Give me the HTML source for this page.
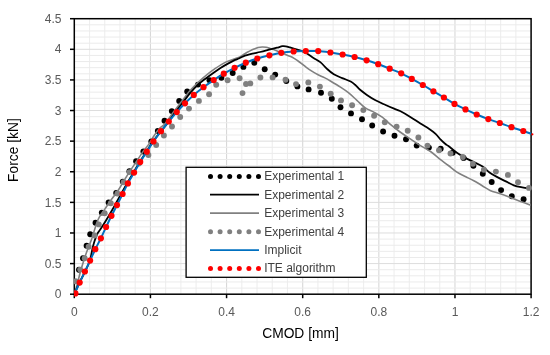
<!DOCTYPE html>
<html><head><meta charset="utf-8"><style>
html,body{margin:0;padding:0;background:#fff;width:550px;height:355px;overflow:hidden}
svg{display:block;will-change:transform}
text{font-family:"Liberation Sans",sans-serif}
.ax text{font-size:12px;fill:#595959}
.lg{font-size:12px;fill:#404040}
.tt{font-size:13.8px;fill:#000}
</style></head><body>
<svg width="550" height="355" viewBox="0 0 550 355">
<rect width="550" height="355" fill="#fff"/>
<g><line x1="89.53" y1="18.7" x2="89.53" y2="294.2" stroke="#eeeeee" stroke-width="1.1"/><line x1="104.75" y1="18.7" x2="104.75" y2="294.2" stroke="#eeeeee" stroke-width="1.1"/><line x1="119.98" y1="18.7" x2="119.98" y2="294.2" stroke="#eeeeee" stroke-width="1.1"/><line x1="135.21" y1="18.7" x2="135.21" y2="294.2" stroke="#eeeeee" stroke-width="1.1"/><line x1="150.43" y1="18.7" x2="150.43" y2="294.2" stroke="#d8d8d8" stroke-width="1.1"/><line x1="165.66" y1="18.7" x2="165.66" y2="294.2" stroke="#eeeeee" stroke-width="1.1"/><line x1="180.89" y1="18.7" x2="180.89" y2="294.2" stroke="#eeeeee" stroke-width="1.1"/><line x1="196.11" y1="18.7" x2="196.11" y2="294.2" stroke="#eeeeee" stroke-width="1.1"/><line x1="211.34" y1="18.7" x2="211.34" y2="294.2" stroke="#eeeeee" stroke-width="1.1"/><line x1="226.57" y1="18.7" x2="226.57" y2="294.2" stroke="#d8d8d8" stroke-width="1.1"/><line x1="241.79" y1="18.7" x2="241.79" y2="294.2" stroke="#eeeeee" stroke-width="1.1"/><line x1="257.02" y1="18.7" x2="257.02" y2="294.2" stroke="#eeeeee" stroke-width="1.1"/><line x1="272.25" y1="18.7" x2="272.25" y2="294.2" stroke="#eeeeee" stroke-width="1.1"/><line x1="287.47" y1="18.7" x2="287.47" y2="294.2" stroke="#eeeeee" stroke-width="1.1"/><line x1="302.70" y1="18.7" x2="302.70" y2="294.2" stroke="#d8d8d8" stroke-width="1.1"/><line x1="317.93" y1="18.7" x2="317.93" y2="294.2" stroke="#eeeeee" stroke-width="1.1"/><line x1="333.15" y1="18.7" x2="333.15" y2="294.2" stroke="#eeeeee" stroke-width="1.1"/><line x1="348.38" y1="18.7" x2="348.38" y2="294.2" stroke="#eeeeee" stroke-width="1.1"/><line x1="363.61" y1="18.7" x2="363.61" y2="294.2" stroke="#eeeeee" stroke-width="1.1"/><line x1="378.83" y1="18.7" x2="378.83" y2="294.2" stroke="#d8d8d8" stroke-width="1.1"/><line x1="394.06" y1="18.7" x2="394.06" y2="294.2" stroke="#eeeeee" stroke-width="1.1"/><line x1="409.29" y1="18.7" x2="409.29" y2="294.2" stroke="#eeeeee" stroke-width="1.1"/><line x1="424.51" y1="18.7" x2="424.51" y2="294.2" stroke="#eeeeee" stroke-width="1.1"/><line x1="439.74" y1="18.7" x2="439.74" y2="294.2" stroke="#eeeeee" stroke-width="1.1"/><line x1="454.97" y1="18.7" x2="454.97" y2="294.2" stroke="#d8d8d8" stroke-width="1.1"/><line x1="470.19" y1="18.7" x2="470.19" y2="294.2" stroke="#eeeeee" stroke-width="1.1"/><line x1="485.42" y1="18.7" x2="485.42" y2="294.2" stroke="#eeeeee" stroke-width="1.1"/><line x1="500.65" y1="18.7" x2="500.65" y2="294.2" stroke="#eeeeee" stroke-width="1.1"/><line x1="515.87" y1="18.7" x2="515.87" y2="294.2" stroke="#eeeeee" stroke-width="1.1"/><line x1="74.3" y1="288.08" x2="531.1" y2="288.08" stroke="#ebebeb" stroke-width="1"/><line x1="74.3" y1="281.96" x2="531.1" y2="281.96" stroke="#ebebeb" stroke-width="1"/><line x1="74.3" y1="275.83" x2="531.1" y2="275.83" stroke="#ebebeb" stroke-width="1"/><line x1="74.3" y1="269.71" x2="531.1" y2="269.71" stroke="#ebebeb" stroke-width="1"/><line x1="74.3" y1="263.59" x2="531.1" y2="263.59" stroke="#dddddd" stroke-width="1"/><line x1="74.3" y1="257.47" x2="531.1" y2="257.47" stroke="#ebebeb" stroke-width="1"/><line x1="74.3" y1="251.34" x2="531.1" y2="251.34" stroke="#ebebeb" stroke-width="1"/><line x1="74.3" y1="245.22" x2="531.1" y2="245.22" stroke="#ebebeb" stroke-width="1"/><line x1="74.3" y1="239.10" x2="531.1" y2="239.10" stroke="#ebebeb" stroke-width="1"/><line x1="74.3" y1="232.98" x2="531.1" y2="232.98" stroke="#dddddd" stroke-width="1"/><line x1="74.3" y1="226.86" x2="531.1" y2="226.86" stroke="#ebebeb" stroke-width="1"/><line x1="74.3" y1="220.73" x2="531.1" y2="220.73" stroke="#ebebeb" stroke-width="1"/><line x1="74.3" y1="214.61" x2="531.1" y2="214.61" stroke="#ebebeb" stroke-width="1"/><line x1="74.3" y1="208.49" x2="531.1" y2="208.49" stroke="#ebebeb" stroke-width="1"/><line x1="74.3" y1="202.37" x2="531.1" y2="202.37" stroke="#dddddd" stroke-width="1"/><line x1="74.3" y1="196.24" x2="531.1" y2="196.24" stroke="#ebebeb" stroke-width="1"/><line x1="74.3" y1="190.12" x2="531.1" y2="190.12" stroke="#ebebeb" stroke-width="1"/><line x1="74.3" y1="184.00" x2="531.1" y2="184.00" stroke="#ebebeb" stroke-width="1"/><line x1="74.3" y1="177.88" x2="531.1" y2="177.88" stroke="#ebebeb" stroke-width="1"/><line x1="74.3" y1="171.76" x2="531.1" y2="171.76" stroke="#dddddd" stroke-width="1"/><line x1="74.3" y1="165.63" x2="531.1" y2="165.63" stroke="#ebebeb" stroke-width="1"/><line x1="74.3" y1="159.51" x2="531.1" y2="159.51" stroke="#ebebeb" stroke-width="1"/><line x1="74.3" y1="153.39" x2="531.1" y2="153.39" stroke="#ebebeb" stroke-width="1"/><line x1="74.3" y1="147.27" x2="531.1" y2="147.27" stroke="#ebebeb" stroke-width="1"/><line x1="74.3" y1="141.14" x2="531.1" y2="141.14" stroke="#dddddd" stroke-width="1"/><line x1="74.3" y1="135.02" x2="531.1" y2="135.02" stroke="#ebebeb" stroke-width="1"/><line x1="74.3" y1="128.90" x2="531.1" y2="128.90" stroke="#ebebeb" stroke-width="1"/><line x1="74.3" y1="122.78" x2="531.1" y2="122.78" stroke="#ebebeb" stroke-width="1"/><line x1="74.3" y1="116.66" x2="531.1" y2="116.66" stroke="#ebebeb" stroke-width="1"/><line x1="74.3" y1="110.53" x2="531.1" y2="110.53" stroke="#dddddd" stroke-width="1"/><line x1="74.3" y1="104.41" x2="531.1" y2="104.41" stroke="#ebebeb" stroke-width="1"/><line x1="74.3" y1="98.29" x2="531.1" y2="98.29" stroke="#ebebeb" stroke-width="1"/><line x1="74.3" y1="92.17" x2="531.1" y2="92.17" stroke="#ebebeb" stroke-width="1"/><line x1="74.3" y1="86.04" x2="531.1" y2="86.04" stroke="#ebebeb" stroke-width="1"/><line x1="74.3" y1="79.92" x2="531.1" y2="79.92" stroke="#dddddd" stroke-width="1"/><line x1="74.3" y1="73.80" x2="531.1" y2="73.80" stroke="#ebebeb" stroke-width="1"/><line x1="74.3" y1="67.68" x2="531.1" y2="67.68" stroke="#ebebeb" stroke-width="1"/><line x1="74.3" y1="61.56" x2="531.1" y2="61.56" stroke="#ebebeb" stroke-width="1"/><line x1="74.3" y1="55.43" x2="531.1" y2="55.43" stroke="#ebebeb" stroke-width="1"/><line x1="74.3" y1="49.31" x2="531.1" y2="49.31" stroke="#dddddd" stroke-width="1"/><line x1="74.3" y1="43.19" x2="531.1" y2="43.19" stroke="#ebebeb" stroke-width="1"/><line x1="74.3" y1="37.07" x2="531.1" y2="37.07" stroke="#ebebeb" stroke-width="1"/><line x1="74.3" y1="30.94" x2="531.1" y2="30.94" stroke="#ebebeb" stroke-width="1"/><line x1="74.3" y1="24.82" x2="531.1" y2="24.82" stroke="#ebebeb" stroke-width="1"/></g>
<g stroke="#000" stroke-width="1.5" fill="none">
<rect x="74.3" y="18.7" width="456.8" height="275.5"/>
<line x1="70" y1="294.20" x2="74.3" y2="294.20"/><line x1="70" y1="263.59" x2="74.3" y2="263.59"/><line x1="70" y1="232.98" x2="74.3" y2="232.98"/><line x1="70" y1="202.37" x2="74.3" y2="202.37"/><line x1="70" y1="171.76" x2="74.3" y2="171.76"/><line x1="70" y1="141.14" x2="74.3" y2="141.14"/><line x1="70" y1="110.53" x2="74.3" y2="110.53"/><line x1="70" y1="79.92" x2="74.3" y2="79.92"/><line x1="70" y1="49.31" x2="74.3" y2="49.31"/><line x1="70" y1="18.70" x2="74.3" y2="18.70"/><line x1="74.30" y1="294.2" x2="74.30" y2="298.2"/><line x1="150.43" y1="294.2" x2="150.43" y2="298.2"/><line x1="226.57" y1="294.2" x2="226.57" y2="298.2"/><line x1="302.70" y1="294.2" x2="302.70" y2="298.2"/><line x1="378.83" y1="294.2" x2="378.83" y2="298.2"/><line x1="454.97" y1="294.2" x2="454.97" y2="298.2"/><line x1="531.10" y1="294.2" x2="531.10" y2="298.2"/>
</g>
<defs><clipPath id="pa"><rect x="73.9" y="10" width="470" height="290"/></clipPath></defs>
<g clip-path="url(#pa)">
<circle cx="79.0" cy="269.7" r="2.95" fill="#000"/><circle cx="83.0" cy="258.2" r="2.95" fill="#000"/><circle cx="86.6" cy="245.8" r="2.95" fill="#000"/><circle cx="90.2" cy="234.3" r="2.95" fill="#000"/><circle cx="95.5" cy="222.7" r="2.95" fill="#000"/><circle cx="101.8" cy="212.6" r="2.95" fill="#000"/><circle cx="108.6" cy="202.4" r="2.95" fill="#000"/><circle cx="116.2" cy="192.9" r="2.95" fill="#000"/><circle cx="122.8" cy="181.6" r="2.95" fill="#000"/><circle cx="129.4" cy="171.3" r="2.95" fill="#000"/><circle cx="136.1" cy="161.2" r="2.95" fill="#000"/><circle cx="143.4" cy="151.5" r="2.95" fill="#000"/><circle cx="151.3" cy="141.4" r="2.95" fill="#000"/><circle cx="157.8" cy="131.0" r="2.95" fill="#000"/><circle cx="164.5" cy="120.7" r="2.95" fill="#000"/><circle cx="171.8" cy="111.1" r="2.95" fill="#000"/><circle cx="179.2" cy="100.9" r="2.95" fill="#000"/><circle cx="187.2" cy="91.5" r="2.95" fill="#000"/><circle cx="198.0" cy="84.6" r="2.95" fill="#000"/><circle cx="209.5" cy="80.3" r="2.95" fill="#000"/><circle cx="221.4" cy="77.8" r="2.95" fill="#000"/><circle cx="232.7" cy="73.0" r="2.95" fill="#000"/><circle cx="243.4" cy="66.9" r="2.95" fill="#000"/><circle cx="254.3" cy="62.7" r="2.95" fill="#000"/><circle cx="264.7" cy="69.2" r="2.95" fill="#000"/><circle cx="275.2" cy="74.6" r="2.95" fill="#000"/><circle cx="286.3" cy="81.0" r="2.95" fill="#000"/><circle cx="297.4" cy="86.4" r="2.95" fill="#000"/><circle cx="308.6" cy="89.4" r="2.95" fill="#000"/><circle cx="321.0" cy="92.7" r="2.95" fill="#000"/><circle cx="331.8" cy="98.7" r="2.95" fill="#000"/><circle cx="340.5" cy="107.3" r="2.95" fill="#000"/><circle cx="351.0" cy="113.4" r="2.95" fill="#000"/><circle cx="362.0" cy="119.2" r="2.95" fill="#000"/><circle cx="372.2" cy="125.5" r="2.95" fill="#000"/><circle cx="383.1" cy="131.5" r="2.95" fill="#000"/><circle cx="394.5" cy="135.8" r="2.95" fill="#000"/><circle cx="406.0" cy="139.2" r="2.95" fill="#000"/><circle cx="416.7" cy="145.6" r="2.95" fill="#000"/><circle cx="428.9" cy="147.6" r="2.95" fill="#000"/><circle cx="440.7" cy="148.8" r="2.95" fill="#000"/><circle cx="452.7" cy="152.8" r="2.95" fill="#000"/><circle cx="463.6" cy="157.9" r="2.95" fill="#000"/><circle cx="473.4" cy="165.8" r="2.95" fill="#000"/><circle cx="482.8" cy="173.8" r="2.95" fill="#000"/><circle cx="491.7" cy="182.0" r="2.95" fill="#000"/><circle cx="501.1" cy="190.1" r="2.95" fill="#000"/><circle cx="511.8" cy="196.3" r="2.95" fill="#000"/><circle cx="523.6" cy="199.2" r="2.95" fill="#000"/>
<path d="M74.30,294.20 C74.75,292.67 75.97,288.78 77.00,285.00 C78.03,281.22 79.23,276.00 80.50,271.50 C81.77,267.00 83.45,261.58 84.60,258.00 C85.75,254.42 86.25,253.07 87.40,250.00 C88.55,246.93 89.75,244.60 91.50,239.60 C93.25,234.60 95.77,224.93 97.90,220.00 C100.03,215.07 102.12,213.33 104.30,210.00 C106.48,206.67 108.65,203.33 111.00,200.00 C113.35,196.67 116.27,193.17 118.40,190.00 C120.53,186.83 121.95,184.02 123.80,181.00 C125.65,177.98 127.38,175.17 129.50,171.90 C131.62,168.63 134.17,164.90 136.50,161.40 C138.83,157.90 141.47,153.73 143.50,150.90 C145.53,148.07 147.05,146.75 148.70,144.40 C150.35,142.05 151.65,139.40 153.40,136.80 C155.15,134.20 157.18,131.05 159.20,128.80 C161.22,126.55 163.15,126.05 165.50,123.30 C167.85,120.55 170.68,115.83 173.30,112.30 C175.92,108.77 178.57,105.52 181.20,102.10 C183.83,98.68 186.52,94.85 189.10,91.80 C191.68,88.75 194.27,86.22 196.70,83.80 C199.13,81.38 200.65,79.82 203.70,77.30 C206.75,74.78 211.25,71.27 215.00,68.70 C218.75,66.13 222.28,63.78 226.20,61.90 C230.12,60.02 235.70,58.57 238.50,57.40 C241.30,56.23 241.53,55.75 243.00,54.90 C244.47,54.05 246.05,53.02 247.30,52.30 C248.55,51.58 249.38,51.13 250.50,50.60 C251.62,50.07 252.73,49.60 254.00,49.10 C255.27,48.60 256.75,47.95 258.10,47.60 C259.45,47.25 260.75,47.05 262.10,47.00 C263.45,46.95 264.85,47.05 266.20,47.30 C267.55,47.55 268.97,48.12 270.20,48.50 C271.43,48.88 272.35,49.15 273.60,49.60 C274.85,50.05 276.30,50.63 277.70,51.20 C279.10,51.77 280.62,52.40 282.00,53.00 C283.38,53.60 284.67,54.25 286.00,54.80 C287.33,55.35 288.58,55.67 290.00,56.30 C291.42,56.93 293.17,57.82 294.50,58.60 C295.83,59.38 296.88,60.20 298.00,61.00 C299.12,61.80 299.82,62.33 301.20,63.40 C302.58,64.47 304.60,66.15 306.30,67.40 C308.00,68.65 309.43,69.68 311.40,70.90 C313.37,72.12 315.85,73.53 318.10,74.70 C320.35,75.87 322.85,76.85 324.90,77.90 C326.95,78.95 327.80,79.45 330.40,81.00 C333.00,82.55 337.50,85.25 340.50,87.20 C343.50,89.15 345.67,90.52 348.40,92.70 C351.13,94.88 354.08,97.77 356.90,100.30 C359.72,102.83 362.48,105.93 365.30,107.90 C368.12,109.87 370.98,110.55 373.80,112.10 C376.62,113.65 379.38,115.12 382.20,117.20 C385.02,119.28 387.72,122.13 390.70,124.60 C393.68,127.07 396.83,129.62 400.10,132.00 C403.37,134.38 406.92,136.63 410.30,138.90 C413.68,141.17 417.03,143.50 420.40,145.60 C423.77,147.70 427.32,149.30 430.50,151.50 C433.68,153.70 436.52,156.47 439.50,158.80 C442.48,161.13 445.50,163.27 448.40,165.50 C451.30,167.73 454.08,170.37 456.90,172.20 C459.72,174.03 462.48,175.08 465.30,176.50 C468.12,177.92 470.98,179.17 473.80,180.70 C476.62,182.23 479.48,184.08 482.20,185.70 C484.92,187.32 487.08,189.05 490.10,190.40 C493.12,191.75 496.92,192.62 500.30,193.80 C503.68,194.98 507.03,196.23 510.40,197.50 C513.77,198.77 517.12,200.10 520.50,201.40 C523.88,202.70 529.00,204.65 530.70,205.30" fill="none" stroke="#808080" stroke-width="1.6" stroke-linejoin="round"/>
<path d="M74.30,294.20 C75.17,292.25 77.67,286.33 79.50,282.50 C81.33,278.67 83.68,274.58 85.30,271.20 C86.92,267.82 88.27,264.65 89.20,262.20 C90.13,259.75 90.35,258.78 90.90,256.50 C91.45,254.22 91.92,251.00 92.50,248.50 C93.08,246.00 93.62,243.92 94.40,241.50 C95.18,239.08 96.17,236.08 97.20,234.00 C98.23,231.92 99.08,231.33 100.60,229.00 C102.12,226.67 104.37,223.17 106.30,220.00 C108.23,216.83 110.33,213.25 112.20,210.00 C114.07,206.75 115.78,203.58 117.50,200.50 C119.22,197.42 120.82,194.50 122.50,191.50 C124.18,188.50 125.77,185.67 127.60,182.50 C129.43,179.33 131.48,175.92 133.50,172.50 C135.52,169.08 137.57,165.45 139.70,162.00 C141.83,158.55 144.08,155.22 146.30,151.80 C148.52,148.38 150.72,144.72 153.00,141.50 C155.28,138.28 157.68,135.42 160.00,132.50 C162.32,129.58 164.45,127.25 166.90,124.00 C169.35,120.75 172.08,116.53 174.70,113.00 C177.32,109.47 179.97,106.20 182.60,102.80 C185.23,99.40 187.92,95.62 190.50,92.60 C193.08,89.58 195.68,86.97 198.10,84.70 C200.52,82.43 202.38,81.02 205.00,79.00 C207.62,76.98 211.22,74.43 213.80,72.60 C216.38,70.77 218.22,69.45 220.50,68.00 C222.78,66.55 225.07,65.25 227.50,63.90 C229.93,62.55 233.22,60.80 235.10,59.90 C236.98,59.00 237.43,59.10 238.80,58.50 C240.17,57.90 241.03,57.10 243.30,56.30 C245.57,55.50 249.60,54.42 252.40,53.70 C255.20,52.98 257.12,52.72 260.10,52.00 C263.08,51.28 267.48,50.12 270.30,49.40 C273.12,48.68 274.98,48.23 277.00,47.70 C279.02,47.17 280.93,46.43 282.40,46.20 C283.87,45.97 284.53,46.10 285.80,46.30 C287.07,46.50 288.08,46.85 290.00,47.40 C291.92,47.95 294.78,48.75 297.30,49.60 C299.82,50.45 302.40,51.12 305.10,52.50 C307.80,53.88 310.97,56.30 313.50,57.90 C316.03,59.50 318.05,60.27 320.30,62.10 C322.55,63.93 324.75,66.87 327.00,68.90 C329.25,70.93 331.27,72.77 333.80,74.30 C336.33,75.83 339.38,76.90 342.20,78.10 C345.02,79.30 348.55,80.38 350.70,81.50 C352.85,82.62 353.53,83.42 355.10,84.80 C356.67,86.18 358.13,88.12 360.10,89.80 C362.07,91.48 364.33,93.15 366.90,94.90 C369.47,96.65 372.38,98.62 375.50,100.30 C378.62,101.98 382.50,103.60 385.60,105.00 C388.70,106.40 391.68,107.70 394.10,108.70 C396.52,109.70 397.40,109.63 400.10,111.00 C402.80,112.37 406.92,114.80 410.30,116.90 C413.68,119.00 417.30,121.63 420.40,123.60 C423.50,125.57 426.37,127.00 428.90,128.70 C431.43,130.40 433.63,131.97 435.60,133.80 C437.57,135.63 439.02,137.95 440.70,139.70 C442.38,141.45 444.42,143.25 445.70,144.30 C446.98,145.35 446.53,144.58 448.40,146.00 C450.27,147.42 454.08,150.82 456.90,152.80 C459.72,154.78 462.48,156.35 465.30,157.90 C468.12,159.45 470.98,160.70 473.80,162.10 C476.62,163.50 479.58,164.58 482.20,166.30 C484.82,168.02 487.05,170.63 489.50,172.40 C491.95,174.17 494.27,175.45 496.90,176.90 C499.53,178.35 502.48,179.70 505.30,181.10 C508.12,182.50 510.98,184.25 513.80,185.30 C516.62,186.35 519.38,186.83 522.20,187.40 C525.02,187.97 529.28,188.48 530.70,188.70" fill="none" stroke="#000" stroke-width="1.8" stroke-linejoin="round"/>
<circle cx="75.6" cy="281.3" r="2.95" fill="#808080"/><circle cx="80.2" cy="269.6" r="2.95" fill="#808080"/><circle cx="84.7" cy="258.2" r="2.95" fill="#808080"/><circle cx="88.6" cy="246.8" r="2.95" fill="#808080"/><circle cx="94.7" cy="235.4" r="2.95" fill="#808080"/><circle cx="98.8" cy="224.4" r="2.95" fill="#808080"/><circle cx="104.7" cy="213.3" r="2.95" fill="#808080"/><circle cx="110.8" cy="203.2" r="2.95" fill="#808080"/><circle cx="117.5" cy="193.5" r="2.95" fill="#808080"/><circle cx="123.6" cy="182.3" r="2.95" fill="#808080"/><circle cx="129.4" cy="172.1" r="2.95" fill="#808080"/><circle cx="138.9" cy="163.5" r="2.95" fill="#808080"/><circle cx="148.4" cy="155.0" r="2.95" fill="#808080"/><circle cx="156.2" cy="145.0" r="2.95" fill="#808080"/><circle cx="163.9" cy="135.5" r="2.95" fill="#808080"/><circle cx="172.0" cy="126.5" r="2.95" fill="#808080"/><circle cx="180.2" cy="117.0" r="2.95" fill="#808080"/><circle cx="189.0" cy="108.6" r="2.95" fill="#808080"/><circle cx="198.9" cy="100.9" r="2.95" fill="#808080"/><circle cx="209.1" cy="94.3" r="2.95" fill="#808080"/><circle cx="216.2" cy="84.7" r="2.95" fill="#808080"/><circle cx="227.6" cy="80.3" r="2.95" fill="#808080"/><circle cx="239.6" cy="78.2" r="2.95" fill="#808080"/><circle cx="242.5" cy="93.1" r="2.95" fill="#808080"/><circle cx="246.0" cy="84.0" r="2.95" fill="#808080"/><circle cx="250.3" cy="83.4" r="2.95" fill="#808080"/><circle cx="260.4" cy="77.5" r="2.95" fill="#808080"/><circle cx="272.6" cy="77.4" r="2.95" fill="#808080"/><circle cx="285.5" cy="79.8" r="2.95" fill="#808080"/><circle cx="296.0" cy="84.1" r="2.95" fill="#808080"/><circle cx="308.3" cy="82.4" r="2.95" fill="#808080"/><circle cx="319.9" cy="86.6" r="2.95" fill="#808080"/><circle cx="330.7" cy="93.8" r="2.95" fill="#808080"/><circle cx="341.0" cy="100.4" r="2.95" fill="#808080"/><circle cx="352.1" cy="105.2" r="2.95" fill="#808080"/><circle cx="363.3" cy="110.1" r="2.95" fill="#808080"/><circle cx="374.1" cy="115.8" r="2.95" fill="#808080"/><circle cx="384.8" cy="122.2" r="2.95" fill="#808080"/><circle cx="396.6" cy="126.6" r="2.95" fill="#808080"/><circle cx="407.7" cy="130.7" r="2.95" fill="#808080"/><circle cx="418.4" cy="137.5" r="2.95" fill="#808080"/><circle cx="427.5" cy="145.6" r="2.95" fill="#808080"/><circle cx="439.0" cy="150.3" r="2.95" fill="#808080"/><circle cx="450.5" cy="153.5" r="2.95" fill="#808080"/><circle cx="462.8" cy="157.0" r="2.95" fill="#808080"/><circle cx="472.9" cy="163.8" r="2.95" fill="#808080"/><circle cx="483.9" cy="169.7" r="2.95" fill="#808080"/><circle cx="495.9" cy="171.6" r="2.95" fill="#808080"/><circle cx="507.9" cy="174.9" r="2.95" fill="#808080"/><circle cx="518.0" cy="182.3" r="2.95" fill="#808080"/><circle cx="529.0" cy="187.9" r="2.95" fill="#808080"/>
<path d="M74.30,294.20 C75.20,292.27 77.93,286.38 79.70,282.60 C81.47,278.82 83.17,275.17 84.90,271.50 C86.63,267.83 88.37,264.32 90.10,260.60 C91.83,256.88 93.50,252.92 95.30,249.20 C97.10,245.48 99.10,242.00 100.90,238.30 C102.70,234.60 104.33,230.75 106.10,227.00 C107.87,223.25 109.68,219.45 111.50,215.80 C113.32,212.15 115.15,208.73 117.00,205.10 C118.85,201.47 120.78,197.62 122.60,194.00 C124.42,190.38 125.98,186.97 127.90,183.40 C129.82,179.83 132.05,176.18 134.10,172.60 C136.15,169.02 138.08,165.38 140.20,161.90 C142.32,158.42 144.58,155.12 146.80,151.70 C149.02,148.28 151.13,144.82 153.50,141.40 C155.87,137.98 158.45,134.52 161.00,131.20 C163.55,127.88 166.17,124.68 168.80,121.50 C171.43,118.32 174.10,115.13 176.80,112.10 C179.50,109.07 182.17,106.17 185.00,103.30 C187.83,100.43 190.72,97.58 193.80,94.90 C196.88,92.22 200.18,89.67 203.50,87.20 C206.82,84.73 210.32,82.35 213.70,80.10 C217.08,77.85 220.32,75.75 223.80,73.70 C227.28,71.65 230.93,69.63 234.60,67.80 C238.27,65.97 242.02,64.25 245.80,62.70 C249.58,61.15 253.37,59.73 257.30,58.50 C261.23,57.27 265.40,56.25 269.40,55.30 C273.40,54.35 277.27,53.43 281.30,52.80 C285.33,52.17 289.52,51.78 293.60,51.50 C297.68,51.22 301.70,51.17 305.80,51.10 C309.90,51.03 314.10,50.87 318.20,51.10 C322.30,51.33 326.33,51.93 330.40,52.50 C334.47,53.07 338.57,53.75 342.60,54.50 C346.63,55.25 350.60,56.03 354.60,57.00 C358.60,57.97 362.67,59.10 366.60,60.30 C370.53,61.50 374.35,62.80 378.20,64.20 C382.05,65.60 385.87,67.18 389.70,68.70 C393.53,70.22 397.52,71.60 401.20,73.30 C404.88,75.00 408.20,76.95 411.80,78.90 C415.40,80.85 419.20,82.93 422.80,85.00 C426.40,87.07 429.88,89.22 433.40,91.30 C436.92,93.38 440.38,95.40 443.90,97.50 C447.42,99.60 450.90,101.92 454.50,103.90 C458.10,105.88 461.80,107.63 465.50,109.40 C469.20,111.17 472.90,112.88 476.70,114.50 C480.50,116.12 484.45,117.68 488.30,119.10 C492.15,120.52 495.93,121.65 499.80,123.00 C503.67,124.35 507.58,125.87 511.50,127.20 C515.42,128.53 520.03,129.92 523.30,131.00 C526.57,132.08 529.80,133.25 531.10,133.70" fill="none" stroke="#0070c0" stroke-width="2" stroke-linejoin="round"/>
<circle cx="75.4" cy="293.4" r="3.1" fill="#ff0000"/><circle cx="79.7" cy="282.6" r="3.1" fill="#ff0000"/><circle cx="84.9" cy="271.5" r="3.1" fill="#ff0000"/><circle cx="90.1" cy="260.6" r="3.1" fill="#ff0000"/><circle cx="95.3" cy="249.2" r="3.1" fill="#ff0000"/><circle cx="100.9" cy="238.3" r="3.1" fill="#ff0000"/><circle cx="106.1" cy="227.0" r="3.1" fill="#ff0000"/><circle cx="111.5" cy="215.8" r="3.1" fill="#ff0000"/><circle cx="117.0" cy="205.1" r="3.1" fill="#ff0000"/><circle cx="122.6" cy="194.0" r="3.1" fill="#ff0000"/><circle cx="127.9" cy="183.4" r="3.1" fill="#ff0000"/><circle cx="134.1" cy="172.6" r="3.1" fill="#ff0000"/><circle cx="140.2" cy="161.9" r="3.1" fill="#ff0000"/><circle cx="146.8" cy="151.7" r="3.1" fill="#ff0000"/><circle cx="153.5" cy="141.4" r="3.1" fill="#ff0000"/><circle cx="161.0" cy="131.2" r="3.1" fill="#ff0000"/><circle cx="168.8" cy="121.5" r="3.1" fill="#ff0000"/><circle cx="176.8" cy="112.1" r="3.1" fill="#ff0000"/><circle cx="185.0" cy="103.3" r="3.1" fill="#ff0000"/><circle cx="193.8" cy="94.9" r="3.1" fill="#ff0000"/><circle cx="203.5" cy="87.2" r="3.1" fill="#ff0000"/><circle cx="213.7" cy="80.1" r="3.1" fill="#ff0000"/><circle cx="223.8" cy="73.7" r="3.1" fill="#ff0000"/><circle cx="234.6" cy="67.8" r="3.1" fill="#ff0000"/><circle cx="245.8" cy="62.7" r="3.1" fill="#ff0000"/><circle cx="257.3" cy="58.5" r="3.1" fill="#ff0000"/><circle cx="269.4" cy="55.3" r="3.1" fill="#ff0000"/><circle cx="281.3" cy="52.8" r="3.1" fill="#ff0000"/><circle cx="293.6" cy="51.5" r="3.1" fill="#ff0000"/><circle cx="305.8" cy="51.1" r="3.1" fill="#ff0000"/><circle cx="318.2" cy="51.1" r="3.1" fill="#ff0000"/><circle cx="330.4" cy="52.5" r="3.1" fill="#ff0000"/><circle cx="342.6" cy="54.5" r="3.1" fill="#ff0000"/><circle cx="354.6" cy="57.0" r="3.1" fill="#ff0000"/><circle cx="366.6" cy="60.3" r="3.1" fill="#ff0000"/><circle cx="378.2" cy="64.2" r="3.1" fill="#ff0000"/><circle cx="389.7" cy="68.7" r="3.1" fill="#ff0000"/><circle cx="401.2" cy="73.3" r="3.1" fill="#ff0000"/><circle cx="411.8" cy="78.9" r="3.1" fill="#ff0000"/><circle cx="422.8" cy="85.0" r="3.1" fill="#ff0000"/><circle cx="433.4" cy="91.3" r="3.1" fill="#ff0000"/><circle cx="443.9" cy="97.5" r="3.1" fill="#ff0000"/><circle cx="454.5" cy="103.9" r="3.1" fill="#ff0000"/><circle cx="465.5" cy="109.4" r="3.1" fill="#ff0000"/><circle cx="476.7" cy="114.5" r="3.1" fill="#ff0000"/><circle cx="488.3" cy="119.1" r="3.1" fill="#ff0000"/><circle cx="499.8" cy="123.0" r="3.1" fill="#ff0000"/><circle cx="511.5" cy="127.2" r="3.1" fill="#ff0000"/><circle cx="523.3" cy="131.0" r="3.1" fill="#ff0000"/><circle cx="532.4" cy="134.3" r="1.1" fill="#ff0000"/>
</g>
<g class="ax"><text x="61.5" y="298.3" text-anchor="end">0</text><text x="61.5" y="267.7" text-anchor="end">0.5</text><text x="61.5" y="237.1" text-anchor="end">1</text><text x="61.5" y="206.5" text-anchor="end">1.5</text><text x="61.5" y="175.9" text-anchor="end">2</text><text x="61.5" y="145.2" text-anchor="end">2.5</text><text x="61.5" y="114.6" text-anchor="end">3</text><text x="61.5" y="84.0" text-anchor="end">3.5</text><text x="61.5" y="53.4" text-anchor="end">4</text><text x="61.5" y="22.8" text-anchor="end">4.5</text><text x="74.3" y="315.7" text-anchor="middle">0</text><text x="150.4" y="315.7" text-anchor="middle">0.2</text><text x="226.6" y="315.7" text-anchor="middle">0.4</text><text x="302.7" y="315.7" text-anchor="middle">0.6</text><text x="378.8" y="315.7" text-anchor="middle">0.8</text><text x="455.0" y="315.7" text-anchor="middle">1</text><text x="531.1" y="315.7" text-anchor="middle">1.2</text></g>
<g><rect x="186.1" y="167.3" width="180.2" height="110.0" fill="#fff" stroke="#000" stroke-width="1.3"/><circle cx="210.5" cy="176.4" r="2.5" fill="#000"/><circle cx="220.1" cy="176.4" r="2.5" fill="#000"/><circle cx="229.7" cy="176.4" r="2.5" fill="#000"/><circle cx="239.3" cy="176.4" r="2.5" fill="#000"/><circle cx="248.9" cy="176.4" r="2.5" fill="#000"/><circle cx="258.5" cy="176.4" r="2.5" fill="#000"/><line x1="210.0" y1="194.7" x2="259.0" y2="194.7" stroke="#000" stroke-width="1.8"/><line x1="210.0" y1="213.2" x2="259.0" y2="213.2" stroke="#808080" stroke-width="1.8"/><circle cx="210.5" cy="231.7" r="2.5" fill="#808080"/><circle cx="220.1" cy="231.7" r="2.5" fill="#808080"/><circle cx="229.7" cy="231.7" r="2.5" fill="#808080"/><circle cx="239.3" cy="231.7" r="2.5" fill="#808080"/><circle cx="248.9" cy="231.7" r="2.5" fill="#808080"/><circle cx="258.5" cy="231.7" r="2.5" fill="#808080"/><line x1="210.0" y1="250.1" x2="259.0" y2="250.1" stroke="#0070c0" stroke-width="1.8"/><circle cx="210.5" cy="268.5" r="2.5" fill="#ff0000"/><circle cx="220.1" cy="268.5" r="2.5" fill="#ff0000"/><circle cx="229.7" cy="268.5" r="2.5" fill="#ff0000"/><circle cx="239.3" cy="268.5" r="2.5" fill="#ff0000"/><circle cx="248.9" cy="268.5" r="2.5" fill="#ff0000"/><circle cx="258.5" cy="268.5" r="2.5" fill="#ff0000"/><text x="264.2" y="180.3" class="lg">Experimental 1</text><text x="264.2" y="198.6" class="lg">Experimental 2</text><text x="264.2" y="217.1" class="lg">Experimental 3</text><text x="264.2" y="235.6" class="lg">Experimental 4</text><text x="264.2" y="254.0" class="lg">Implicit</text><text x="264.2" y="272.4" class="lg">ITE algorithm</text></g>
<text x="300.5" y="337.7" text-anchor="middle" class="tt">CMOD [mm]</text>
<text transform="translate(17.7,150.1) rotate(-90)" text-anchor="middle" class="tt">Force [kN]</text>
</svg>
</body></html>
